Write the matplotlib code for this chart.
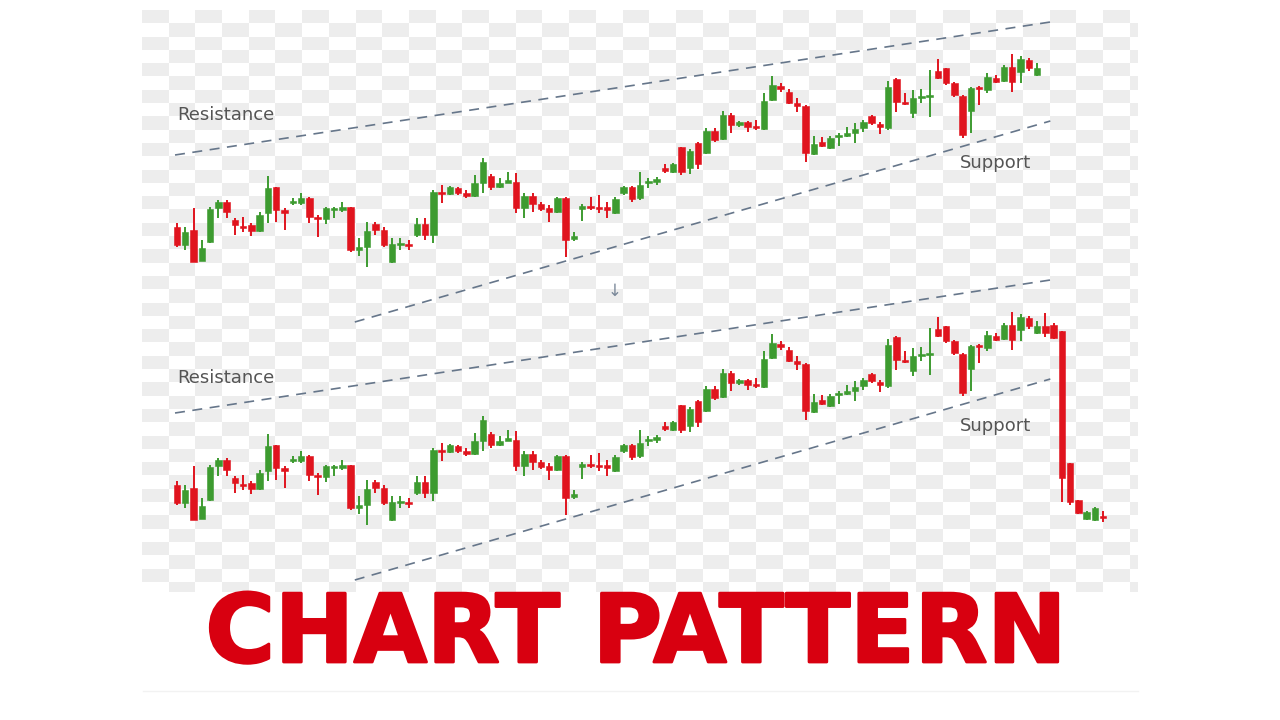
import numpy as np
import matplotlib
matplotlib.use("Agg")
import matplotlib.pyplot as plt
import matplotlib.patheffects as pe

# ---------------- data (price units) ----------------
opens = [73, 55, 70, 39, 58, 92, 98, 80, 74, 75, 69, 87, 113, 90, 97, 97, 102, 83, 81, 90,
         90, 93, 50, 53, 76, 70, 38, 55, 56, 65, 76, 65, 108, 106, 112, 107, 104, 117, 124, 113,
         117, 118, 92, 104, 96, 92, 88, 102, 61, 91, 94, 93, 93, 87, 107, 113, 102, 117, 118, 132,
         128, 153, 132, 157, 147, 169, 161, 185, 175, 178, 174, 171, 200, 214, 208, 197, 194, 146, 158, 152,
         163, 164, 167, 172, 184, 176, 172, 221, 198, 187, 202, 203, 229, 232, 217, 204, 189, 213, 210, 222,
         219, 233, 228, 240, 225]
closes = [55, 68, 38, 52, 91, 98, 88, 75, 72, 69, 85, 112, 90, 87, 98, 102, 83, 81, 92, 92,
          93, 50, 53, 69, 70, 55, 56, 57, 54, 76, 65, 108, 106, 113, 107, 104, 117, 138, 113, 117,
          120, 92, 104, 96, 91, 88, 102, 60, 64, 94, 92, 91, 90, 101, 113, 101, 115, 118, 121, 129,
          136, 128, 149, 136, 169, 160, 185, 175, 178, 173, 172, 199, 215, 211, 197, 194, 147, 156, 154, 162,
          165, 167, 171, 178, 177, 173, 213, 198, 196, 202, 203, 204, 222, 217, 205, 165, 212, 211, 223, 218,
          233, 218, 241, 232, 232]
highs = [77, 73, 92, 60, 93, 100, 100, 82, 83, 77, 88, 124, 113, 92, 102, 107, 103, 85, 93, 93,
         98, 93, 62, 78, 78, 73, 62, 62, 60, 82, 82, 110, 115, 114, 113, 110, 125, 142, 126, 122,
         128, 127, 107, 107, 98, 95, 103, 103, 68, 96, 103, 105, 98, 103, 114, 114, 128, 122, 123, 136,
         137, 153, 151, 158, 172, 172, 189, 187, 179, 179, 180, 207, 224, 217, 211, 202, 195, 164, 163, 164,
         167, 173, 177, 180, 185, 178, 219, 222, 207, 210, 211, 230, 241, 232, 218, 205, 213, 214, 227, 225,
         235, 246, 244, 242, 237]
lows = [53, 50, 38, 39, 57, 82, 82, 65, 68, 64, 68, 77, 78, 70, 95, 95, 77, 63, 76, 82,
        88, 48, 44, 33, 65, 53, 37, 50, 50, 63, 60, 57, 97, 105, 105, 102, 103, 107, 110, 112,
        117, 87, 82, 88, 89, 78, 87, 43, 59, 79, 90, 87, 82, 86, 105, 98, 100, 112, 115, 127,
        127, 125, 126, 131, 146, 158, 160, 167, 173, 168, 170, 170, 199, 208, 196, 188, 138, 145, 153, 151,
        154, 163, 157, 168, 175, 166, 170, 188, 195, 182, 197, 183, 221, 215, 203, 162, 167, 195, 207, 217,
        218, 208, 217, 229, 224]

# extra candles of the lower panel (the breakdown)
drop_opens = [232, 233, 227, 95, 58, 39, 38, 41]
drop_closes = [225, 220, 80, 56, 45, 46, 50, 40]
drop_highs = [245, 235, 227, 95, 58, 47, 51, 47]
drop_lows = [221, 219, 56, 53, 44, 38, 37, 36]

# trend lines (candle index, price)
resistance_x = [-0.24, 105.6]
resistance_y = [145, 278]
support_x = [21.5, 105.6]
support_y = [-22, 179]

labels = ["Resistance", "Support"]
title = "CHART PATTERN"

RED = "#e0141e"
GREEN = "#3d9b30"
LINE = "#66768a"

W, H = 1280, 720
fig = plt.figure(figsize=(W / 100, H / 100), dpi=100)
fig.patch.set_facecolor("white")


def px_rect(x0, y0, x1, y1):
    """axes rect from pixel box (top-left origin)"""
    return [x0 / W, 1 - y1 / H, (x1 - x0) / W, (y1 - y0) / H]


# checkerboard background
axbg = fig.add_axes(px_rect(142, 10, 1138, 592))
ncol, nrow = 38, 44
checker = (np.add.outer(np.arange(nrow), np.arange(ncol)) % 2).astype(float)
axbg.imshow(checker, cmap=matplotlib.colors.ListedColormap(["#ededed", "#ffffff"]),
            extent=[0, ncol, nrow, 0], interpolation="nearest", aspect="auto")
axbg.set_xlim(0, 996 / 26.7)
axbg.set_ylim(582 / 13.3, 0)
axbg.axis("off")

XLIM = ((142 - 177) / 8.27, (1138 - 177) / 8.27)
YLIM = (-40, 300)


def draw_candles(ax, o, c, h, l, start=0):
    o = np.asarray(o, float); c = np.asarray(c, float)
    h = np.asarray(h, float); l = np.asarray(l, float)
    x = np.arange(start, start + len(o))
    col = np.where(c >= o, GREEN, RED)
    ax.vlines(x, l, h, colors=col, linewidth=1.4, zorder=3)
    bottom = np.minimum(o, c)
    height = np.maximum(np.abs(c - o), 2.5)
    ax.bar(x, height, bottom=bottom, width=0.78, color=col, edgecolor=col,
           linewidth=0.4, zorder=4)


def panel(rect, extra, res_lbl_y, sup_lbl_y):
    ax = fig.add_axes(rect)
    ax.patch.set_alpha(0)
    ax.set_xlim(*XLIM)
    ax.set_ylim(*YLIM)
    ax.axis("off")
    ax.plot(resistance_x, resistance_y, ls=(0, (6, 4.5)), color=LINE, lw=1.2, zorder=2)
    ax.plot(support_x, support_y, ls=(0, (6, 4.5)), color=LINE, lw=1.2, zorder=2)
    draw_candles(ax, opens, closes, highs, lows)
    if extra:
        draw_candles(ax, drop_opens, drop_closes, drop_highs, drop_lows, start=len(opens))
    ax.text(0, res_lbl_y, labels[0], fontsize=13, color="#555555", va="center", ha="left")
    ax.text(94.7, sup_lbl_y, labels[1], fontsize=13, color="#555555", va="center", ha="left")
    return ax


panel(px_rect(142, 0, 1138, 340), False, 185, 137)
panel(px_rect(142, 258, 1138, 598), True, 180, 132)

fig.text(615 / W, 1 - 291 / H, "\u2193", fontsize=12, color="#7a8899", ha="center", va="center")

fig.text(636 / W, 1 - 662 / H, title, fontsize=68, fontweight="bold", color="#d80010",
         family="DejaVu Sans", ha="center", va="baseline",
         path_effects=[pe.withStroke(linewidth=2, foreground="#d80010")])

# faint rule under the title
fig.add_artist(plt.Line2D([143 / W, 1138 / W], [1 - 691 / H, 1 - 691 / H],
                          color="#f2f2f2", lw=1))

fig.savefig("out.png", dpi=100, facecolor="white")
